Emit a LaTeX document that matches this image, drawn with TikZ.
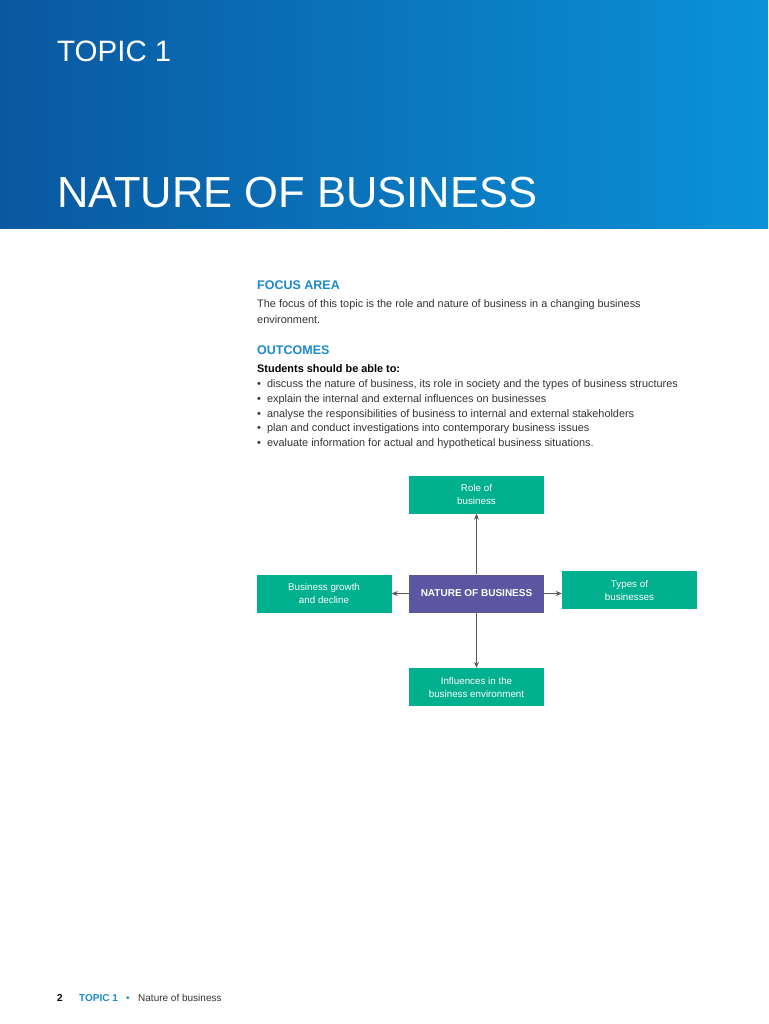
\documentclass[tikz,border=0pt]{standalone}
\usepackage{fontspec}
\setmainfont{Liberation Sans}
\usetikzlibrary{arrows.meta}
\definecolor{teal1}{HTML}{00B08E}
\definecolor{purp}{HTML}{5A56A2}
\definecolor{hblue}{HTML}{1A8ACB}
\definecolor{bandL}{HTML}{0A58A0}
\definecolor{bandR}{HTML}{0A92D8}
\definecolor{txt}{HTML}{333333}
\begin{document}
\begin{tikzpicture}[x=1pt,y=-1pt,
 box/.style={fill=teal1,text=white,minimum width=135pt,minimum height=38pt,inner sep=0pt,align=center,font=\fontsize{9.8}{13}\selectfont},
 con/.style={draw=black!65,line width=0.7pt,-{Stealth[length=6pt,width=5pt]}},
 body/.style={anchor=base west,inner sep=0pt,text=txt,font=\fontsize{10.9}{14}\selectfont}]
\useasboundingbox (0,0) rectangle (768,1024);
\fill[white] (0,0) rectangle (768,1024);
\shade[left color=bandL,right color=bandR] (0,0) rectangle (768,229);
\node[anchor=base west,inner sep=0pt,text=white,font=\fontsize{29.5}{30}\selectfont] (t1) at (57,62) {TOPIC 1};
\node[anchor=base west,inner sep=0pt,text=white,font=\fontsize{43.5}{46}\selectfont] (t2) at (57,208) {NATURE OF BUSINESS};
\node[anchor=base west,inner sep=0pt,text=hblue,font=\bfseries\fontsize{12.5}{14}\selectfont] (h1) at (257,289) {FOCUS AREA};
\node[body] (p1) at (257,307) {The focus of this topic is the role and nature of business in a changing business};
\node[body] (p2) at (257,323) {environment.};
\node[anchor=base west,inner sep=0pt,text=hblue,font=\bfseries\fontsize{12.5}{14}\selectfont] (h2) at (257,354) {OUTCOMES};
\node[body,font=\bfseries\fontsize{10.9}{14}\selectfont,text=black] (s0) at (257,372) {Students should be able to:};
\node[body] (s1) at (257,387) {\textbullet\ \ discuss the nature of business, its role in society and the types of business structures};
\node[body] (s2) at (257,402) {\textbullet\ \ explain the internal and external influences on businesses};
\node[body] (s3) at (257,417) {\textbullet\ \ analyse the responsibilities of business to internal and external stakeholders};
\node[body] (s4) at (257,431) {\textbullet\ \ plan and conduct investigations into contemporary business issues};
\node[body] (s5) at (257,446) {\textbullet\ \ evaluate information for actual and hypothetical business situations.};
\node[box,fill=purp,font=\bfseries\fontsize{10}{12}\selectfont] (c) at (476.5,593.5) {NATURE OF BUSINESS};
\node[box] (r) at (476.5,494.5) {Role of\\business};
\node[box] (l) at (324,593.5) {Business growth\\and decline};
\node[box] (ty) at (629.5,590) {Types of\\businesses};
\node[box] (b) at (476.5,687) {Influences in the\\business environment};
\draw[con] (c) -- (r);
\draw[con] (c) -- (b);
\draw[con] (c.west) -- (l.east);
\draw[con] (c.east) -- (ty.west|-c.east);
\node[anchor=base west,inner sep=0pt,font=\bfseries\fontsize{10}{12}\selectfont] (pg) at (57,1001) {2};
\node[anchor=base west,inner sep=0pt,font=\bfseries\fontsize{10}{12}\selectfont,text=hblue] (ft) at (79,1001) {TOPIC 1};
\node[anchor=base west,inner sep=0pt,font=\fontsize{10}{12}\selectfont,text=hblue] (fb) at (126,1001) {\textbullet};
\node[anchor=base west,inner sep=0pt,font=\fontsize{10}{12}\selectfont,text=txt] (fn) at (138,1001) {Nature of business};
\end{tikzpicture}
\end{document}
